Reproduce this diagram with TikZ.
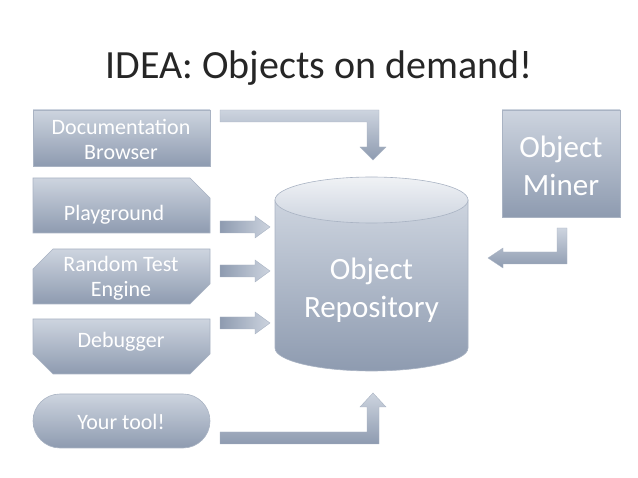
\documentclass[tikz,border=0pt]{standalone}
\usepackage{fontspec}
\setmainfont{Carlito}
\begin{document}
\begin{tikzpicture}[x=1pt,y=-1pt,
 blk/.style={top color=topc,bottom color=botc,draw=edgec,line width=0.6pt},
 arr/.style={left color=botc,right color=topc,draw=edgec,line width=0.4pt},
 varr/.style={top color=topc,bottom color=botc,draw=edgec,line width=0.4pt},
 lab/.style={text=white,font=\fontsize{22}{25}\selectfont,align=center}]
\definecolor{topc}{HTML}{CDD4DF}
\definecolor{botc}{HTML}{8E9BB0}
\definecolor{edgec}{HTML}{A9B3C3}
\useasboundingbox (0,0) rectangle (638,478);
\node[font=\fontsize{40}{44}\selectfont,text=black!85] (title) at (319,68) {IDEA: Objects on demand!};
% left boxes
\draw[blk] (33,110) rectangle (210,166);
\node[lab] (doc) at (121,139) {Documentation\\Browser};
\draw[blk] (33,178) -- (190,178) -- (210,198) -- (210,233) -- (33,233) -- cycle;
\node[lab] (play) at (114,215) {Playground};
\draw[blk] (53,249) -- (210,249) -- (210,284) -- (190,304) -- (33,304) -- (33,269) -- cycle;
\node[lab] (rand) at (121,278) {Random Test\\Engine};
\draw[blk] (33,319) -- (210,319) -- (210,354) -- (190,374) -- (53,374) -- (33,354) -- cycle;
\node[lab] (dbg) at (121,342) {Debugger};
\draw[blk,rounded corners=27pt] (33,394) rectangle (210,448);
\node[lab] (tool) at (121,422) {Your tool!};
% miner
\draw[blk] (502,110) rectangle (620,217);
\node[lab,font=\fontsize{31}{38}\selectfont] (miner) at (561,166) {Object\\Miner};
% cylinder
\draw[blk] (275,200) -- (275,348) arc[start angle=180,end angle=0,x radius=96.5,y radius=23] -- (468,200) -- cycle;
\draw[top color=white!70!topc,bottom color=topc,draw=edgec,line width=0.6pt] (371.5,200) ellipse[x radius=96.5,y radius=23];
\node[lab,font=\fontsize{31}{38}\selectfont] (repo) at (371.5,290) {Object\\Repository};
% arrows
\draw[varr] (220,110) -- (379,110) -- (379,147) -- (386,147) -- (373,160) -- (360,147) -- (367,147) -- (367,122) -- (220,122) -- cycle;
\draw[varr] (220,444) -- (379,444) -- (379,407) -- (386,407) -- (373,393) -- (360,407) -- (367,407) -- (367,432) -- (220,432) -- cycle;
\draw[varr] (567,228) -- (567,264) -- (503,264) -- (503,268) -- (488,258) -- (503,248) -- (503,252) -- (557,252) -- (557,228) -- cycle;
\foreach \y in {227,271,323}{
 \draw[arr] (220,\y-6) -- (255,\y-6) -- (255,\y-11) -- (270,\y) -- (255,\y+11) -- (255,\y+6) -- (220,\y+6) -- cycle;}
\end{tikzpicture}
\end{document}
